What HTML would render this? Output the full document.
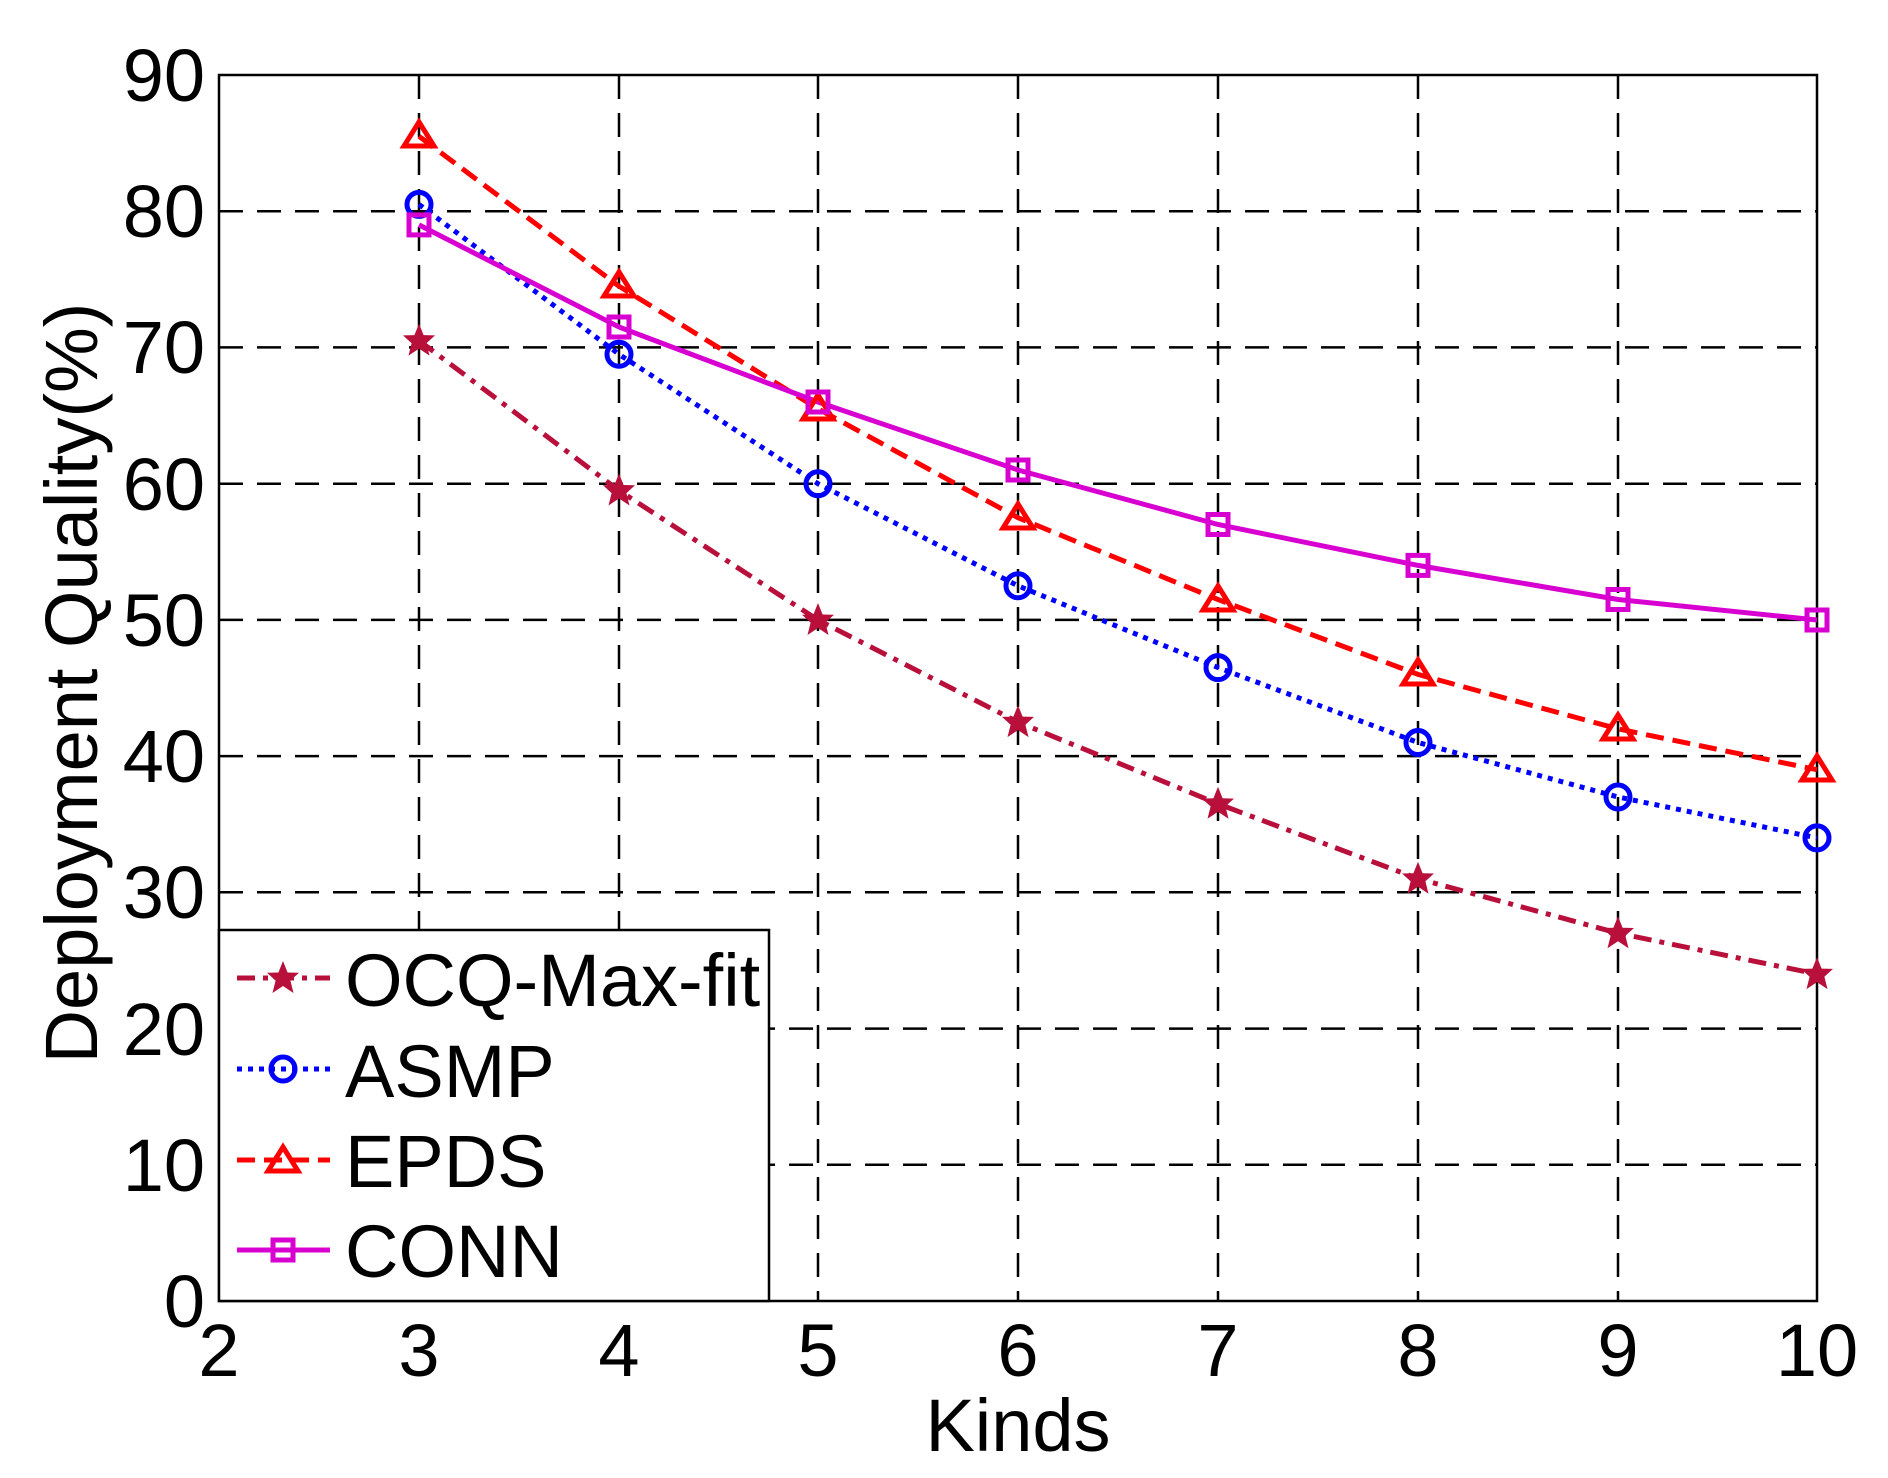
<!DOCTYPE html>
<html><head><meta charset="utf-8"><style>html,body{margin:0;padding:0;background:#fff}</style></head>
<body>
<svg width="1888" height="1473" viewBox="0 0 1888 1473" xmlns="http://www.w3.org/2000/svg" font-family="Liberation Sans, Arial, sans-serif">
<rect width="1888" height="1473" fill="#fff"/>
<g stroke="#000" stroke-width="2.5" stroke-dasharray="24,14" fill="none">
<path d="M219 211.2H1817M219 347.4H1817M219 483.7H1817M219 619.9H1817M219 756.1H1817M219 892.3H1817M219 1028.6H1817M219 1164.8H1817"/>
<path d="M419 75V1301M619 75V1301M818 75V1301M1018 75V1301M1218 75V1301M1418 75V1301M1618 75V1301"/>
</g>
<rect x="219" y="75" width="1598" height="1226" fill="none" stroke="#000" stroke-width="2.5"/>
<g font-size="74" fill="#000" text-anchor="end">
<text x="205" y="101">90</text><text x="205" y="237">80</text><text x="205" y="373">70</text><text x="205" y="510">60</text><text x="205" y="646">50</text><text x="205" y="782">40</text><text x="205" y="918">30</text><text x="205" y="1055">20</text><text x="205" y="1191">10</text><text x="205" y="1327">0</text>
</g>
<g font-size="74" fill="#000" text-anchor="middle">
<text x="219" y="1376">2</text><text x="419" y="1376">3</text><text x="619" y="1376">4</text><text x="818" y="1376">5</text><text x="1018" y="1376">6</text><text x="1218" y="1376">7</text><text x="1418" y="1376">8</text><text x="1618" y="1376">9</text><text x="1817" y="1376">10</text>
<text x="1018" y="1451">Kinds</text>
<text transform="translate(97,683) rotate(-90)">Deployment Quality(%)</text>
</g>
<!-- series -->
<g fill="none" stroke-width="5">
<polyline stroke="#B8103A" stroke-dasharray="18,8,5,8" points="419,340.6 619,490.5 818,620 1018,722.1 1218,803.8 1418,878.7 1618,933.2 1817,974.1"/>
<polyline stroke="#0000FF" stroke-dasharray="5,6" points="419,204.4 619,354.3 818,483.7 1018,585.8 1218,667.6 1418,742.5 1618,797 1817,837.9"/>
<polyline stroke="#FF0000" stroke-dasharray="18,9" points="419,136.3 619,286.2 818,408.8 1018,517.7 1218,599.5 1418,674.4 1618,728.9 1817,769.7"/>
<polyline stroke="#D800D0" points="419,224.9 619,327 818,402 1018,470 1218,524.5 1418,565.4 1618,599.5 1817,620"/>
</g>
<defs>
<path id="star" d="M0,-17 L4.6,-5.5 L16,-5.2 L7.4,2.6 L10.5,15 L0,8 L-10.5,15 L-7.4,2.6 L-16,-5.2 L-4.6,-5.5Z"/>
</defs>
<g fill="#B8103A">
<use href="#star" x="419" y="340.6"/><use href="#star" x="619" y="490.5"/><use href="#star" x="818" y="620"/><use href="#star" x="1018" y="722.1"/><use href="#star" x="1218" y="803.8"/><use href="#star" x="1418" y="878.7"/><use href="#star" x="1618" y="933.2"/><use href="#star" x="1817" y="974.1"/>
</g>
<g fill="none" stroke="#0000FF" stroke-width="5">
<circle cx="419" cy="204.4" r="12"/><circle cx="619" cy="354.3" r="12"/><circle cx="818" cy="483.7" r="12"/><circle cx="1018" cy="585.8" r="12"/><circle cx="1218" cy="667.6" r="12"/><circle cx="1418" cy="742.5" r="12"/><circle cx="1618" cy="797" r="12"/><circle cx="1817" cy="837.9" r="12"/>
</g>
<g fill="none" stroke="#FF0000" stroke-width="5">
<path d="M419,122l15,24h-30z"/><path d="M619,272l15,24h-30z"/><path d="M818,395l15,24h-30z"/><path d="M1018,504l15,24h-30z"/><path d="M1218,586l15,24h-30z"/><path d="M1418,660l15,24h-30z"/><path d="M1618,715l15,24h-30z"/><path d="M1817,756l15,24h-30z"/>
</g>
<g fill="none" stroke="#D800D0" stroke-width="5">
<rect x="409" y="214.9" width="20" height="20"/><rect x="609" y="317" width="20" height="20"/><rect x="808" y="392" width="20" height="20"/><rect x="1008" y="460" width="20" height="20"/><rect x="1208" y="514.5" width="20" height="20"/><rect x="1408" y="555.4" width="20" height="20"/><rect x="1608" y="589.5" width="20" height="20"/><rect x="1807" y="610" width="20" height="20"/>
</g>
<!-- legend -->
<rect x="219" y="930" width="550" height="371" fill="#fff" stroke="#000" stroke-width="2.5"/>
<g stroke-width="5" fill="none">
<line x1="237" y1="978" x2="330" y2="978" stroke="#B8103A" stroke-dasharray="18,8,5,8"/>
<line x1="237" y1="1069" x2="330" y2="1069" stroke="#0000FF" stroke-dasharray="5,6"/>
<line x1="237" y1="1160" x2="330" y2="1160" stroke="#FF0000" stroke-dasharray="18,9"/>
<line x1="237" y1="1250" x2="330" y2="1250" stroke="#D800D0"/>
<circle cx="283" cy="1069" r="12" stroke="#0000FF"/>
<path d="M283,1147l15,24h-30z" stroke="#FF0000"/>
<rect x="273" y="1240" width="20" height="20" stroke="#D800D0"/>
</g>
<use href="#star" x="283" y="978" fill="#B8103A"/>
<g font-size="74" fill="#000">
<text x="345" y="1006">OCQ-Max-fit</text>
<text x="345" y="1097">ASMP</text>
<text x="345" y="1187">EPDS</text>
<text x="345" y="1277">CONN</text>
</g>
</svg>
</body></html>
